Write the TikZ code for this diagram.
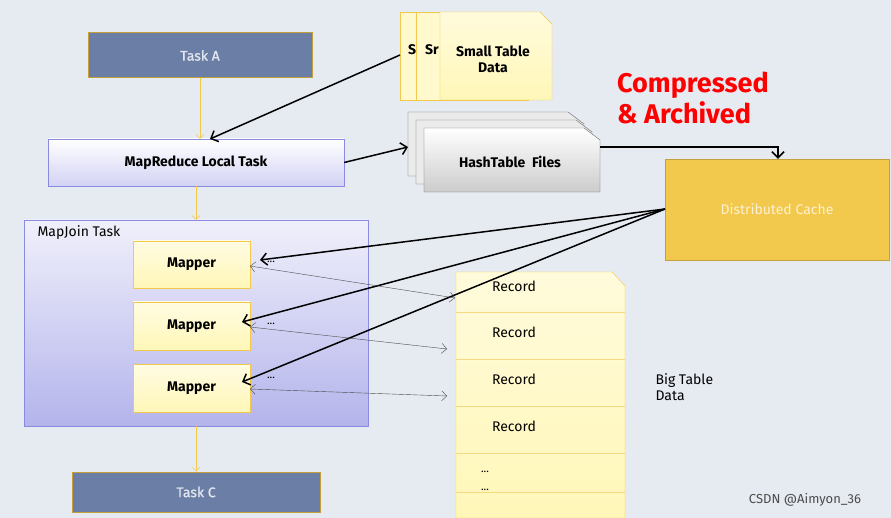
\documentclass[tikz,border=0pt]{standalone}
\usepackage{fontspec}
\setmainfont{Fira Sans}
\setsansfont{Fira Sans}
\usetikzlibrary{arrows.meta}
\definecolor{bg}{HTML}{E6EAF1}
\definecolor{slate}{HTML}{6B7FA6}
\definecolor{gold}{HTML}{F2C94C}
\definecolor{pale}{HTML}{FFF7B8}
\definecolor{lav}{HTML}{B4B4EC}
\definecolor{lavline}{HTML}{8A8AE0}
\begin{document}
\begin{tikzpicture}[x=1pt,y=-1pt,font=\fontsize{14}{16}\selectfont,
  bold/.style={font=\fontsize{14}{16}\selectfont\bfseries},
  task/.style={draw=gold!80!black,line width=1pt,fill=slate,text=white!80!slate,font=\fontsize{14}{16}\selectfont\mdseries},
  mapper/.style={draw=gold,top color=pale!40,bottom color=pale,bold},
  flow/.style={-{Straight Barb[length=4pt]},draw=gold,thin},
  heavy/.style={-{Straight Barb[length=6pt]},line width=1.5pt},
  light/.style={{Straight Barb[length=5pt]}-{Straight Barb[length=5pt]},draw=black!70,thin},
  dots/.style={font=\fontsize{11}{12}\selectfont}]
\fill[bg] (0,0) rectangle (891,518);
\useasboundingbox (0,0) rectangle (891,518);
% tasks
\node[task,minimum width=224,minimum height=45] (ta) at (200,55.5) {\addfontfeature{FakeBold=1}Task A};
\node[task,minimum width=248,minimum height=40] (tc) at (196,492) {\addfontfeature{FakeBold=1}Task C};
\node[draw=lavline,top color=white,bottom color=lav!60,minimum width=296,minimum height=47,bold] (mr) at (196,162.5) {MapReduce Local Task};
\node[draw=lavline,top color=white!80!lav,bottom color=lav,minimum width=344,minimum height=206] (mj) at (196,323) {};
\node[anchor=north west] (mjl) at (34,222) {MapJoin Task};
\node[mapper,minimum width=117,minimum height=47] (m1) at (191.5,264.5) {Mapper};
\node[mapper,minimum width=117,minimum height=48] (m2) at (191.5,326) {Mapper};
\node[mapper,minimum width=117,minimum height=48] (m3) at (191.5,388) {Mapper};
% small table data
\foreach \x in {400,416} \draw[gold,fill=pale!70] (\x,12) rectangle ++(112,88);
\node[bold,anchor=west,inner sep=0] (s1) at (408,50) {S};
\node[bold,anchor=west,inner sep=0] (s2) at (425,50) {Sr};
\draw[gold,top color=pale!50,bottom color=pale] (440,12) -- (540,12) -- (552,24) -- (552,100) -- (440,100) -- cycle;
\node[bold,align=center] (st) at (493,59) {Small Table\\Data};
\coordinate (stw) at (400,55);
% hashtable files
\foreach \x/\y in {408/112,416/120} \draw[black!60,fill=black!8] (\x,\y) -- (\x+160,\y) -- (\x+176,\y+12) -- (\x+176,\y+64) -- (\x,\y+64) -- cycle;
\draw[black!60,top color=white,bottom color=black!20] (424,128) -- (584,128) -- (600,140) -- (600,192) -- (424,192) -- cycle;
\node[bold] (ht) at (510,162) {HashTable\ \ Files};
\coordinate (htw) at (408,147);
\coordinate (hte) at (600,147);
% cache
\node[fill=gold,draw=gold!80!black,minimum width=224,minimum height=101,text=white!75!gold] (dc) at (777,209.5) {Distributed Cache};
\node[text=red,font=\fontsize{27}{31}\selectfont\bfseries,align=left,anchor=north west,inner sep=0] (ca) at (617,72) {Compressed\\\& Archived};
% big table
\draw[gold,top color=pale!50,bottom color=pale] (456,272) -- (612,272) -- (625,286) -- (625,518) -- (456,518) -- cycle;
\foreach \y in {312,359,406,453,492} \draw[gold!70] (456,\y) -- (625,\y);
\foreach \y/\n in {286/r1,332/r2,379/r3,426/r4} \node (\n) at (514,\y) {Record};
\node[dots] (d1) at (485,472) {...};
\node[dots] (d2) at (485,490) {...};
\node[align=left,anchor=west] (bt) at (652,387) {Big Table\\Data};
\foreach \y/\n in {262/e1,324/e2,378/e3} \node[dots] (\n) at (271,\y) {...};
% connectors
\draw[flow] (ta) -- (mr.north -| ta);
\draw[flow] (mr) -- (mj);
\draw[flow] (mj) -- (tc);
\draw[heavy] (stw) -- (210,139);
\draw[heavy] (mr.east) -- (htw);
\draw[heavy] (hte) -- (778,147) -- (dc.north -| 778,0);
\coordinate (dcw) at (665,209);
\draw[heavy] (dcw) -- (260,260);
\draw[heavy] (dcw) -- (242,322);
\draw[heavy] (dcw) -- (242,382);
\coordinate (b1) at (455,298);
\coordinate (b2) at (447,349);
\coordinate (b3) at (447,396);
\draw[light] (250,266) -- (b1);
\draw[light] (250,327) -- (b2);
\draw[light] (250,389) -- (b3);
\node[font=\fontsize{13}{15}\selectfont,text=black!70] (wm) at (805,500) {CSDN @Aimyon\_36};
\end{tikzpicture}
\end{document}
